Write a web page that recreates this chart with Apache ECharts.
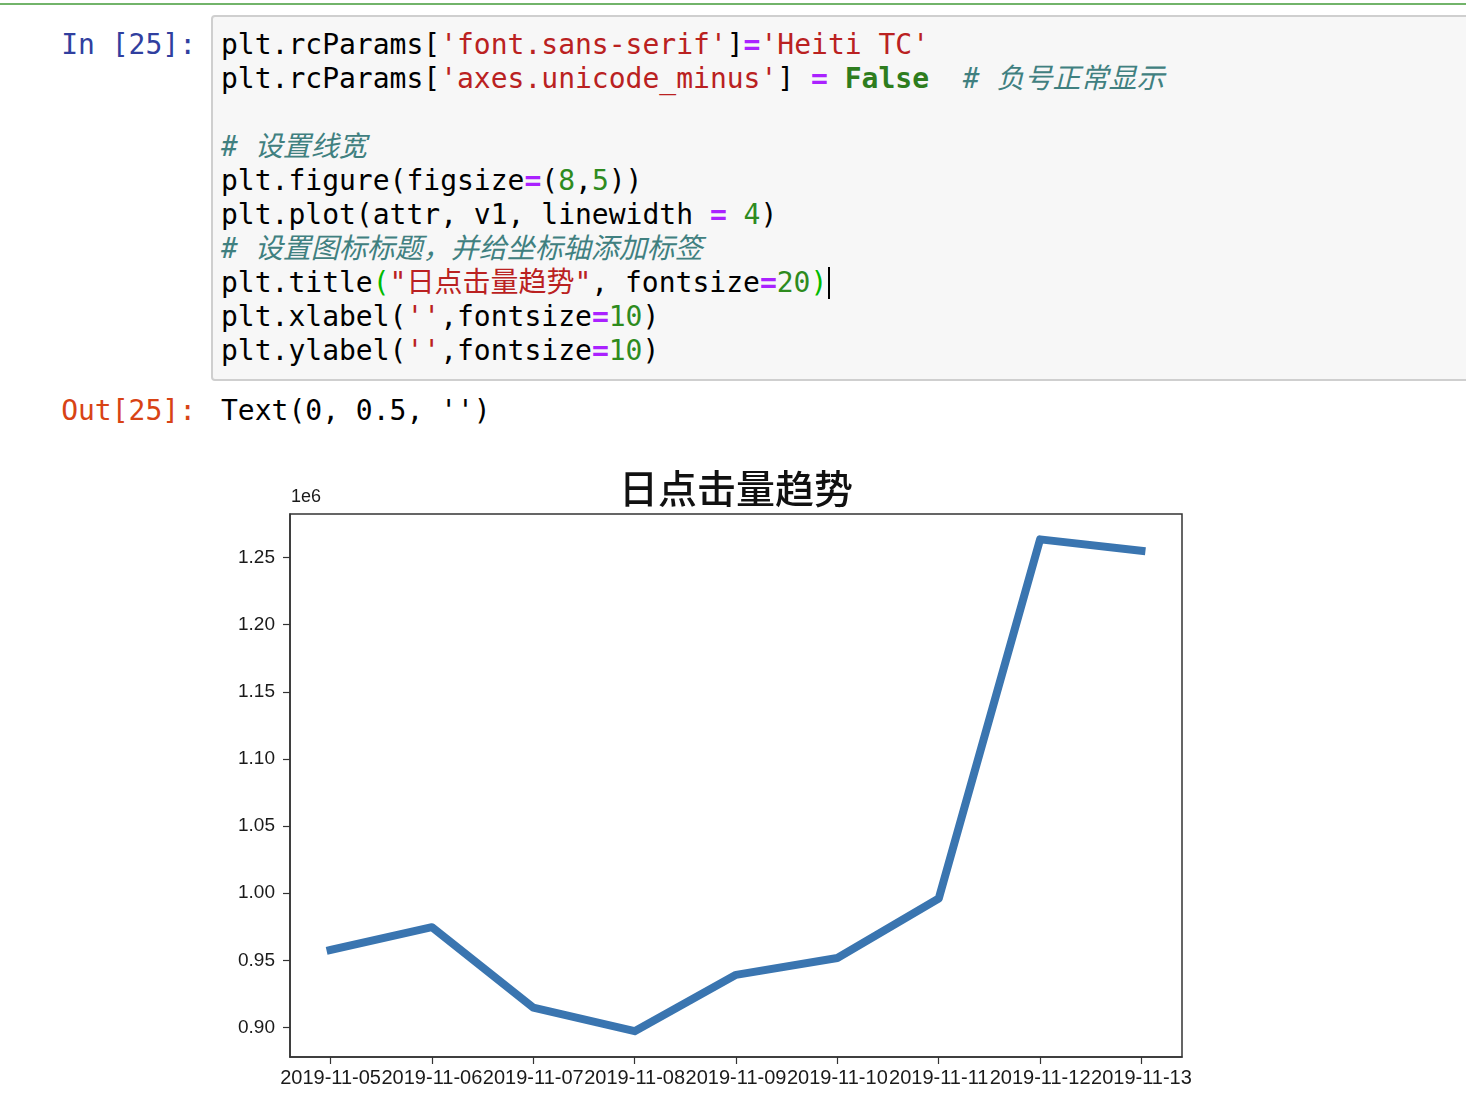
<!DOCTYPE html>
<html>
<head>
<meta charset="utf-8">
<script src="https://cdn.jsdelivr.net/npm/echarts@6/dist/echarts.min.js"></script>
<style>
  html, body { margin: 0; padding: 0; background: #fff; width: 1466px; height: 1112px; overflow: hidden; position: relative; }
  .topline { position: absolute; left: 0; top: 3px; width: 1466px; height: 2px; background: #72b46a; }
  .prompt { position: absolute; width: 196px; left: 0; text-align: right; font-family: "DejaVu Sans Mono", monospace; font-size: 28px; line-height: 34px; white-space: pre; }
  .in { color: #303f9f; top: 28px; }
  .out { color: #d84315; top: 394px; }
  .cell { position: absolute; left: 211px; top: 15px; width: 1270px; height: 366px; background: #f7f7f7; border: 2px solid #cfcfcf; border-radius: 4px; box-sizing: border-box; }
  pre.code { position: absolute; left: 221px; top: 28px; margin: 0; font-family: "DejaVu Sans Mono", "Noto Sans CJK SC", monospace; font-size: 28px; line-height: 34px; color: #000; }
  .s { color: #ba2121; }
  .o { color: #aa22ff; font-weight: bold; }
  .n { color: #2e8b1e; }
  .k { color: #2e7d1e; font-weight: bold; }
  .c { color: #408080; font-style: italic; font-family: "DejaVu Sans Mono", "Noto Sans CJK SC", monospace; }
  .mb { color: #00bb00; }
  .cur { display: inline-block; width: 2px; height: 32px; background: #000; vertical-align: -7px; margin-left: 1px; }
  .outtext { position: absolute; left: 221px; top: 394px; font-family: "DejaVu Sans Mono", monospace; font-size: 28px; line-height: 34px; color: #000; white-space: pre; }
  #chart { position: absolute; left: 0; top: 440px; width: 1466px; height: 672px; }
</style>
</head>
<body>
<div class="topline"></div>
<div class="prompt in">In [25]:</div>
<div class="cell"></div>
<pre class="code">plt.rcParams[<span class="s">'font.sans-serif'</span>]<span class="o">=</span><span class="s">'Heiti TC'</span>
plt.rcParams[<span class="s">'axes.unicode_minus'</span>] <span class="o">=</span> <span class="k">False</span>  <span class="c"># 负号正常显示</span>

<span class="c"># 设置线宽</span>
plt.figure(figsize<span class="o">=</span>(<span class="n">8</span>,<span class="n">5</span>))
plt.plot(attr, v1, linewidth <span class="o">=</span> <span class="n">4</span>)
<span class="c"># 设置图标标题，并给坐标轴添加标签</span>
plt.title<span class="mb">(</span><span class="s">"日点击量趋势"</span>, fontsize<span class="o">=</span><span class="n">20</span><span class="mb">)</span><span class="cur"></span>
plt.xlabel(<span class="s">''</span>,fontsize<span class="o">=</span><span class="n">10</span>)
plt.ylabel(<span class="s">''</span>,fontsize<span class="o">=</span><span class="n">10</span>)</pre>
<div class="prompt out">Out[25]:</div>
<div class="outtext">Text(0, 0.5, '')</div>
<div id="chart"></div>
<script>
const chartTitle = '日点击量趋势';
const dates = ['2019-11-05', '2019-11-06', '2019-11-07', '2019-11-08', '2019-11-09',
               '2019-11-10', '2019-11-11', '2019-11-12', '2019-11-13'];
const clicks = [957700, 974700, 914700, 897200, 939200, 951700, 996000, 1263500, 1255000];
const yTickValues = [900000, 950000, 1000000, 1050000, 1100000, 1150000, 1200000, 1250000];
const yMin = 878000;
const yMax = 1282400;
const yScaleLabel = '1e6';

const xTickValues = dates.map((d, i) => i);
const seriesData = clicks.map((v, i) => [i, v]);

const chart = echarts.init(document.getElementById('chart'), null, { renderer: 'canvas' });
const tickFont = '"Liberation Sans", Arial, sans-serif';
chart.setOption({
  animation: false,
  backgroundColor: '#fff',
  title: {
    text: chartTitle,
    left: 731,
    top: 24,
    textAlign: 'center',
    textStyle: { fontFamily: '"Noto Sans CJK SC", sans-serif', fontSize: 39, fontWeight: 500, color: '#111' }
  },
  grid: {
    left: 290, right: 284, top: 74, bottom: 55,
    show: true, borderColor: '#333', borderWidth: 1.5, backgroundColor: 'transparent'
  },
  xAxis: {
    type: 'value',
    min: -0.4,
    max: dates.length - 1 + 0.4,
    axisLine: { show: true, onZero: false, lineStyle: { color: '#333', width: 1.5 } },
    axisTick: { show: true, length: 7, customValues: xTickValues, lineStyle: { color: '#333', width: 1.2 } },
    axisLabel: {
      customValues: xTickValues,
      formatter: v => dates[Math.round(v)],
      margin: 11,
      fontFamily: tickFont, fontSize: 20, color: '#1a1a1a'
    },
    splitLine: { show: false }
  },
  yAxis: {
    type: 'value',
    min: yMin,
    max: yMax,
    name: yScaleLabel,
    nameLocation: 'end',
    nameGap: 8,
    nameTextStyle: { fontFamily: tickFont, fontSize: 18, color: '#1a1a1a', align: 'left', verticalAlign: 'bottom', padding: [0, 0, 0, 1] },
    axisLine: { show: true, onZero: false, lineStyle: { color: '#333', width: 1.5 } },
    axisTick: { show: true, length: 7, customValues: yTickValues, lineStyle: { color: '#333', width: 1.2 } },
    axisLabel: {
      customValues: yTickValues,
      formatter: v => (v / 1e6).toFixed(2),
      margin: 15,
      fontFamily: tickFont, fontSize: 19, color: '#1a1a1a'
    },
    splitLine: { show: false }
  },
  series: [{
    type: 'line',
    data: seriesData,
    showSymbol: false,
    symbol: 'none',
    lineStyle: { color: '#3a75b0', width: 8, join: 'round', cap: 'square' },
    z: 3
  }]
});
</script>
</body>
</html>
